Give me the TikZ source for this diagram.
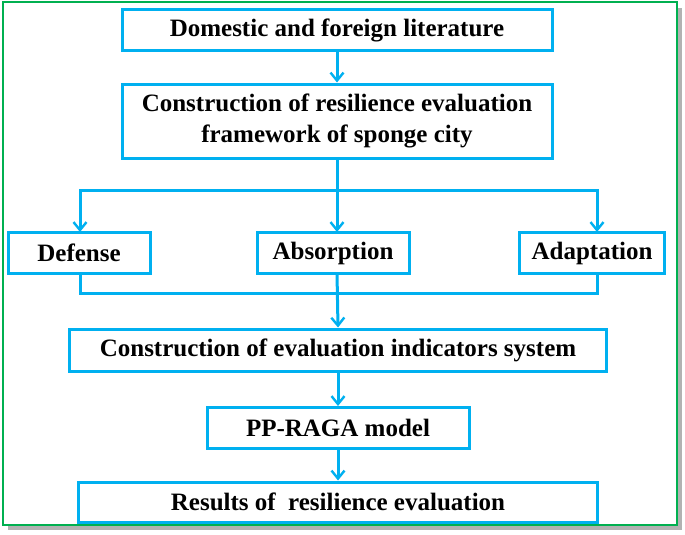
\documentclass[tikz,border=0pt]{standalone}
\usepackage{fontspec}
\setmainfont{Liberation Serif}
\usetikzlibrary{arrows.meta}
\definecolor{bl}{RGB}{0,176,240}
\definecolor{gr}{RGB}{0,176,80}
\tikzset{
 bx/.style={draw=bl,line width=3pt,fill=white,inner sep=0pt,font=\fontsize{25}{31}\selectfont\bfseries,align=center},
 ln/.style={draw=bl,line width=3pt},
 ar/.style={ln,-{Straight Barb[length=8pt,width=13pt,line width=2.4pt]}}
}
\begin{document}
\begin{tikzpicture}[x=1pt,y=-1pt]
\useasboundingbox (0,0) rectangle (685,535);
\fill[gray!60] (8,8) rectangle (682,530);
\draw[gr,line width=2pt,fill=white] (3,2) rectangle (677,525);
\node[bx,minimum width=430,minimum height=41] (a) at (337,30) {Domestic and foreign literature};
\node[bx,minimum width=430,minimum height=74] (b) at (337,121) {Construction of resilience evaluation\\framework of sponge city};
\node[bx,minimum width=142,minimum height=41] (d) at (79,253) {Defense};
\node[bx,minimum width=152,minimum height=41] (e) at (333,253) {Absorption};
\node[bx,minimum width=145,minimum height=41] (f) at (592,253) {Adaptation};
\node[bx,minimum width=537,minimum height=42] (g) at (338,350) {Construction of evaluation indicators system};
\node[bx,minimum width=262,minimum height=41] (h) at (338,428) {PP-RAGA model};
\node[bx,minimum width=519,minimum height=40] (i) at (338,502) {Results of\ \ resilience evaluation};
\coordinate (s) at (337,190);
\coordinate (m) at (337,293);
\coordinate (dt) at (80,232);
\coordinate (db) at (80,273);
\coordinate (ft) at (597,232);
\coordinate (fb) at (597,273);
\coordinate (et) at (337,232);
\coordinate (eb) at (337,273);
\draw[ar] (a.south) -- (b.north);
\draw[ln] (b.south) -- (s);
\draw[ar] (s) -| (dt);
\draw[ar] (s) -| (ft);
\draw[ar] (s) -- (et);
\draw[ln] (db) |- (m);
\draw[ln] (fb) |- (m);
\draw[ar] (eb) -- (g.north);
\draw[ar] (g.south) -- (h.north);
\draw[ar] (h.south) -- (i.north);
\end{tikzpicture}
\end{document}
